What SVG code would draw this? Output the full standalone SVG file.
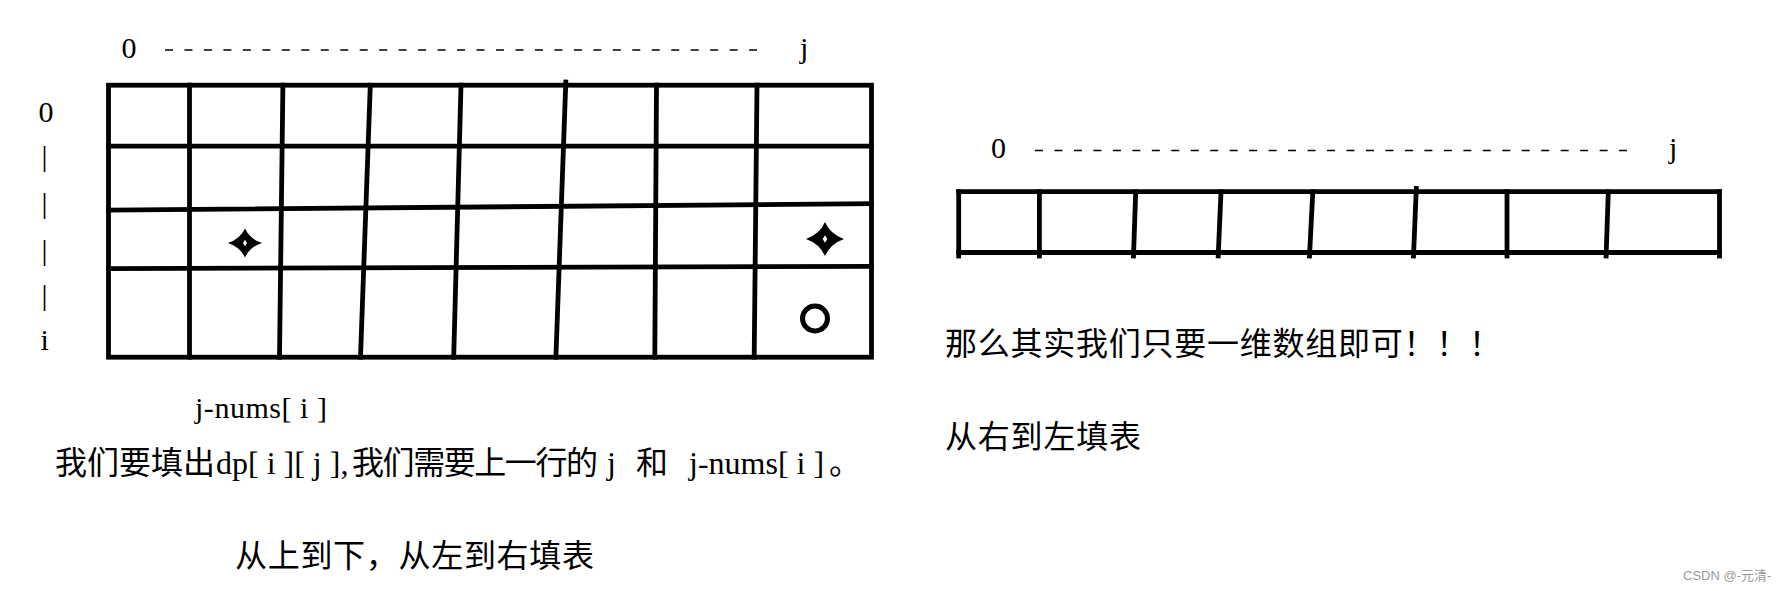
<svg xmlns="http://www.w3.org/2000/svg" width="1785" height="591" viewBox="0 0 1785 591">
<style>
.ln{stroke:#000;stroke-width:4.8;fill:none;stroke-linecap:square}
.dash{stroke:#000;stroke-width:1.6;stroke-dasharray:8 11.47;fill:none}
.lat{font-family:"Liberation Serif","Times New Roman",serif;font-size:30px;fill:#000}
.cn{font-family:"Liberation Serif","Noto Sans CJK SC",serif;font-size:32px;fill:#000}
.wm{font-family:"Liberation Sans","Noto Sans CJK SC",sans-serif;font-size:13px;fill:#9a9a9a}
</style>
<defs>
<path id="star" fill-rule="evenodd" d="M0,-1 Q0.28,-0.28 1,0 Q0.28,0.28 0,1 Q-0.28,0.28 -1,0 Q-0.28,-0.28 0,-1 Z M0,-0.22 L0.12,0 L0,0.22 L-0.12,0 Z"/>
</defs>
<rect width="1785" height="591" fill="#fff"/>

<g id="grid2d">
<rect class="ln" x="108.5" y="85.2" width="763" height="272"/>
<line class="ln" x1="108.5" y1="146.2" x2="871.5" y2="146.2"/>
<line class="ln" x1="108.5" y1="210.2" x2="871.5" y2="203.6"/>
<line class="ln" x1="108.5" y1="268.6" x2="871.5" y2="266.4"/>
<line class="ln" x1="189.5" y1="85.2" x2="189.5" y2="357.2"/>
<line class="ln" x1="282.9" y1="85.2" x2="279.5" y2="357.2"/>
<line class="ln" x1="370.3" y1="85.2" x2="360.5" y2="357.2"/>
<line class="ln" x1="461" y1="85.2" x2="453.7" y2="357.2"/>
<line class="ln" x1="565.8" y1="82" x2="555.9" y2="357.2"/>
<line class="ln" x1="656.5" y1="85.2" x2="654.8" y2="357.2"/>
<line class="ln" x1="757" y1="85.2" x2="754.2" y2="357.2"/>
</g>

<g id="marks">
<use href="#star" transform="translate(245,243) scale(17,14.5)"/>
<use href="#star" transform="translate(825,239) scale(19,17)"/>
<circle cx="815" cy="318.5" r="12.5" fill="none" stroke="#000" stroke-width="5"/>
</g>

<g id="axis2d">
<text class="lat" x="121.5" y="57.5">0</text>
<line class="dash" x1="165" y1="50" x2="757" y2="50"/>
<text class="lat" x="800" y="57.5">j</text>
<text class="lat" x="38.5" y="121.5">0</text>
<text class="lat" x="41.5" y="166">|</text>
<text class="lat" x="41.5" y="212.5">|</text>
<text class="lat" x="41.5" y="259.5">|</text>
<text class="lat" x="41.5" y="304.5">|</text>
<text class="lat" x="40.5" y="350">i</text>
<text class="lat" x="195" y="418" font-size="31" textLength="132">j-nums[ i ]</text>
</g>

<g id="grid1d">
<line class="ln" x1="958.7" y1="191.7" x2="1719.5" y2="191.7"/>
<line class="ln" x1="958.7" y1="252.5" x2="1719.5" y2="252.5"/>
<line class="ln" x1="958.7" y1="191.7" x2="958.7" y2="256"/>
<line class="ln" x1="1719.5" y1="191.7" x2="1719.5" y2="256"/>
<line class="ln" x1="1039.4" y1="191.7" x2="1039.4" y2="256"/>
<line class="ln" x1="1135.7" y1="191.7" x2="1133.5" y2="256"/>
<line class="ln" x1="1221" y1="191.7" x2="1218.2" y2="256"/>
<line class="ln" x1="1312.8" y1="191.7" x2="1309.5" y2="256"/>
<line class="ln" x1="1416.3" y1="188.5" x2="1413.5" y2="256"/>
<line class="ln" x1="1507" y1="191.7" x2="1507" y2="256"/>
<line class="ln" x1="1608.3" y1="191.7" x2="1606.1" y2="256"/>
</g>

<g id="axis1d">
<text class="lat" x="991" y="158">0</text>
<line class="dash" x1="1035" y1="150.5" x2="1627" y2="150.5"/>
<text class="lat" x="1669" y="158">j</text>
</g>

<g id="notes">
<text class="cn" x="55" y="474">我们要填出<tspan x="216">dp[ i ][ j ],</tspan><tspan x="352" textLength="246">我们需要上一行的</tspan><tspan x="599"> j </tspan><tspan x="636">和</tspan><tspan x="681"> j-nums[ i ]</tspan><tspan x="829">。</tspan></text>
<text class="cn" x="235" y="567" textLength="359">从上到下，从左到右填表</text>
<text class="cn" x="945" y="355" textLength="556">那么其实我们只要一维数组即可！！！</text>
<text class="cn" x="945" y="448" textLength="196">从右到左填表</text>
</g>

<g id="watermark">
<text class="wm" x="1683" y="580">CSDN @-元清-</text>
</g>
</svg>
